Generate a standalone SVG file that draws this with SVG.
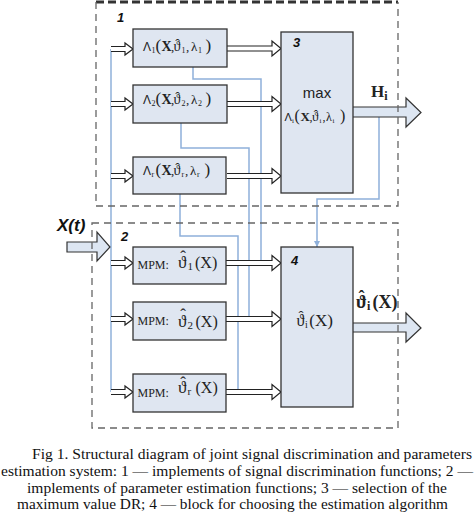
<svg xmlns="http://www.w3.org/2000/svg" width="474" height="513" viewBox="0 0 474 513">
<style>
.blk{fill:#dfe6f1;stroke:#333;stroke-width:1.3}
.arr{fill:#fff;stroke:#222;stroke-width:1.2}
.big{fill:#dde6f2;stroke:#333;stroke-width:1.2}
.fb{fill:none;stroke:#8fb0da;stroke-width:1.5}
.dash{fill:none;stroke:#666;stroke-width:1.3;stroke-dasharray:7 5}
.num{font-family:"Liberation Sans",Arial,sans-serif;font-weight:bold;font-style:italic;font-size:13px;fill:#111}
.m{font-family:"Liberation Serif","DejaVu Serif",serif;fill:#222}
.s{font-family:"Liberation Sans",Arial,sans-serif;fill:#222}
.hat{font-family:"Liberation Serif",serif;fill:#222;text-anchor:middle}
.cap{font-family:"Liberation Serif","Times New Roman",serif;font-size:15px;fill:#111}
</style>
<defs>
<marker id="bh" viewBox="0 0 8 8" refX="8" refY="4" markerWidth="6" markerHeight="6" orient="auto" markerUnits="userSpaceOnUse">
<path d="M0,0 L8,4 L0,8 Z" fill="#8fb0da"/>
</marker>
</defs>

<g id="connectors">
<path class="fb" d="M111,49 V392"/>
<path class="fb" d="M193,67 V79 H261 V263"/>
<path class="fb" d="M181,123 V148 H249 V320"/>
<path class="fb" d="M180,194 V236 H238 V392"/>
<path class="fb" d="M379,117 V199 H317 V247" marker-end="url(#bh)"/>
<path class="arr" d="M111,46.5 H125 V43 L133,49 L125,55 V51.5 H111"/>
<path class="arr" d="M111,101.5 H125 V98 L133,104 L125,110 V106.5 H111"/>
<path class="arr" d="M111,173.5 H125 V170 L133,176 L125,182 V178.5 H111"/>
<path class="arr" d="M111,260.5 H125 V257 L133,263 L125,269 V265.5 H111"/>
<path class="arr" d="M111,316.5 H125 V313 L133,319 L125,325 V321.5 H111"/>
<path class="arr" d="M111,389.5 H125 V386 L133,392 L125,398 V394.5 H111"/>
<path class="arr" d="M227,46 H272 V41 L281,48.5 L272,56 V51 H227"/>
<path class="arr" d="M227,101.5 H272 V96.5 L281,104 L272,111.5 V106.5 H227"/>
<path class="arr" d="M227,173.5 H272 V168.5 L281,176 L272,183.5 V178.5 H227"/>
<path class="arr" d="M226,260.5 H272 V255.5 L281,263 L272,270.5 V265.5 H226"/>
<path class="arr" d="M226,316.5 H272 V311.5 L281,319 L272,326.5 V321.5 H226"/>
<path class="arr" d="M226,389.5 H272 V384.5 L281,392 L272,399.5 V394.5 H226"/>
<path class="big" d="M67,242 H97 V232 L110,247 L97,261 V252 H67 Z"/>
<path class="big" d="M353,107 H406 V98 L421,112.5 L406,127 V117 H353"/>
<path class="big" d="M353,323 H406 V313 L421,328 L406,342 V332 H353"/>
</g>

<g id="frame1">
<line x1="96" y1="2" x2="398" y2="2" stroke="#333" stroke-width="3" stroke-dasharray="8 4"/>
<path class="dash" d="M96,2 V206 H398 V2"/>
<text class="num" x="117" y="22">1</text>
</g>
<g id="frame2">
<rect class="dash" x="92" y="223" width="306" height="205"/>
<text class="num" x="121" y="241">2</text>
</g>

<g id="input">
<text x="57" y="231" font-family="Liberation Sans,Arial,sans-serif" font-weight="bold" font-style="italic" font-size="17" fill="#111">X(t)</text>
</g>

<g id="lambda1">
<rect class="blk" x="133" y="29" width="94" height="38"/>
<text class="m" y="51" font-size="13"><tspan class="s" x="143" font-size="12">Λ</tspan><tspan x="151.5" dy="2" font-size="8">1</tspan><tspan x="155.5" dy="-2" font-size="17">(</tspan><tspan x="161.5" font-weight="bold" font-size="14">X</tspan><tspan x="171">,</tspan><tspan x="173.5" font-size="14">ϑ</tspan><tspan x="181.5" dy="2" font-size="8">1</tspan><tspan x="186" dy="-2">,</tspan><tspan x="191" font-size="13">λ</tspan><tspan x="198" dy="2" font-size="8">1</tspan><tspan x="205.5" dy="-2" font-size="17">)</tspan></text>
<text class="hat" x="177.5" y="49" font-size="14">ˆ</text>
</g>
<g id="lambda2">
<rect class="blk" x="133" y="85" width="94" height="38"/>
<text class="m" y="104" font-size="13"><tspan class="s" x="143" font-size="12">Λ</tspan><tspan x="151.5" dy="2" font-size="8">2</tspan><tspan x="155.5" dy="-2" font-size="17">(</tspan><tspan x="161.5" font-weight="bold" font-size="14">X</tspan><tspan x="171">,</tspan><tspan x="173.5" font-size="14">ϑ</tspan><tspan x="181.5" dy="2" font-size="8">2</tspan><tspan x="186" dy="-2">,</tspan><tspan x="191" font-size="13">λ</tspan><tspan x="198" dy="2" font-size="8">2</tspan><tspan x="205.5" dy="-2" font-size="17">)</tspan></text>
<text class="hat" x="177.5" y="102" font-size="14">ˆ</text>
</g>
<g id="lambdar">
<rect class="blk" x="133" y="157" width="93" height="37"/>
<text class="m" y="175" font-size="13"><tspan class="s" x="143" font-size="12">Λ</tspan><tspan x="151.5" dy="2" font-size="8">r</tspan><tspan x="155.5" dy="-2" font-size="17">(</tspan><tspan x="161.5" font-weight="bold" font-size="14">X</tspan><tspan x="171">,</tspan><tspan x="173.5" font-size="14">ϑ</tspan><tspan x="181.5" dy="2" font-size="8">r</tspan><tspan x="185" dy="-2">,</tspan><tspan x="190" font-size="13">λ</tspan><tspan x="197" dy="2" font-size="8">r</tspan><tspan x="204.5" dy="-2" font-size="17">)</tspan></text>
<text class="hat" x="177.5" y="173" font-size="14">ˆ</text>
</g>

<g id="block3">
<rect class="blk" x="281" y="32" width="72" height="161"/>
<text class="num" x="293" y="47">3</text>
<text class="s" x="317" y="98" text-anchor="middle" font-size="15">max</text>
<text class="m" y="121" font-size="12"><tspan class="s" x="284.5" font-size="11">Λ</tspan><tspan x="292" dy="2" font-size="7">i</tspan><tspan x="294.5" dy="-2" font-size="16">(</tspan><tspan x="300.5" font-weight="bold" font-size="13">X</tspan><tspan x="309.5">,</tspan><tspan x="312" font-size="13">ϑ</tspan><tspan x="319.5" dy="2" font-size="7">i</tspan><tspan x="322.5" dy="-2">,</tspan><tspan x="326" font-size="12">λ</tspan><tspan x="332.5" dy="2" font-size="7">i</tspan><tspan x="340" dy="-2" font-size="16">)</tspan></text>
<text class="hat" x="315.8" y="119" font-size="13">ˆ</text>
<text class="m" x="371" y="97" font-size="17" font-weight="bold">H<tspan font-size="12" dy="3">i</tspan></text>
</g>

<g id="mpm1">
<rect class="blk" x="133" y="247" width="93" height="37"/>
<text class="m" x="137.5" y="269" font-size="12">MPM:</text>
<text class="m" y="267.5" font-size="16"><tspan x="178" font-size="17">ϑ</tspan><tspan x="187.5" dy="2" font-size="11">1</tspan><tspan x="195" dy="-2">(X)</tspan></text>
<text class="hat" x="183" y="262" font-size="17">ˆ</text>
</g>
<g id="mpm2">
<rect class="blk" x="133" y="302" width="93" height="38"/>
<text class="m" x="137.5" y="325" font-size="12">MPM:</text>
<text class="m" y="327" font-size="16"><tspan x="178" font-size="17">ϑ</tspan><tspan x="187.5" dy="2" font-size="11">2</tspan><tspan x="195.5" dy="-2">(X)</tspan></text>
<text class="hat" x="183" y="320" font-size="17">ˆ</text>
</g>
<g id="mpmr">
<rect class="blk" x="133" y="374" width="93" height="38"/>
<text class="m" x="137.5" y="397" font-size="12">MPM:</text>
<text class="m" y="393" font-size="16"><tspan x="178" font-size="17">ϑ</tspan><tspan x="187.5" dy="2" font-size="11">r</tspan><tspan x="195.5" dy="-2">(X)</tspan></text>
<text class="hat" x="183" y="388" font-size="17">ˆ</text>
</g>

<g id="block4">
<rect class="blk" x="281" y="247" width="72" height="160"/>
<text class="num" x="291" y="265">4</text>
<text class="m" y="326" font-size="17"><tspan x="296.5" font-size="16">ϑ</tspan><tspan x="305" dy="2" font-size="10">i</tspan><tspan x="309.3" dy="-2">(X)</tspan></text>
<text class="hat" x="301" y="321" font-size="15">ˆ</text>
<text class="m" y="308" font-size="18" font-weight="bold"><tspan x="356" font-size="18">ϑ</tspan><tspan x="367" dy="2" font-size="12">i</tspan><tspan x="372.5" dy="-2">(X)</tspan></text>
<text class="hat" x="361.5" y="303" font-size="18" font-weight="bold">ˆ</text>
</g>

<g id="caption">
<text class="cap" x="32" y="459" textLength="440" lengthAdjust="spacingAndGlyphs">Fig 1. Structural diagram of joint signal discrimination and parameters</text>
<text class="cap" x="1" y="476" textLength="472" lengthAdjust="spacingAndGlyphs">estimation system: 1 — implements of signal discrimination functions; 2 —</text>
<text class="cap" x="27" y="493" textLength="420" lengthAdjust="spacingAndGlyphs">implements of parameter estimation functions; 3 — selection of the</text>
<text class="cap" x="17" y="509" textLength="431" lengthAdjust="spacingAndGlyphs">maximum value DR; 4 — block for choosing the estimation algorithm</text>
</g>
</svg>
